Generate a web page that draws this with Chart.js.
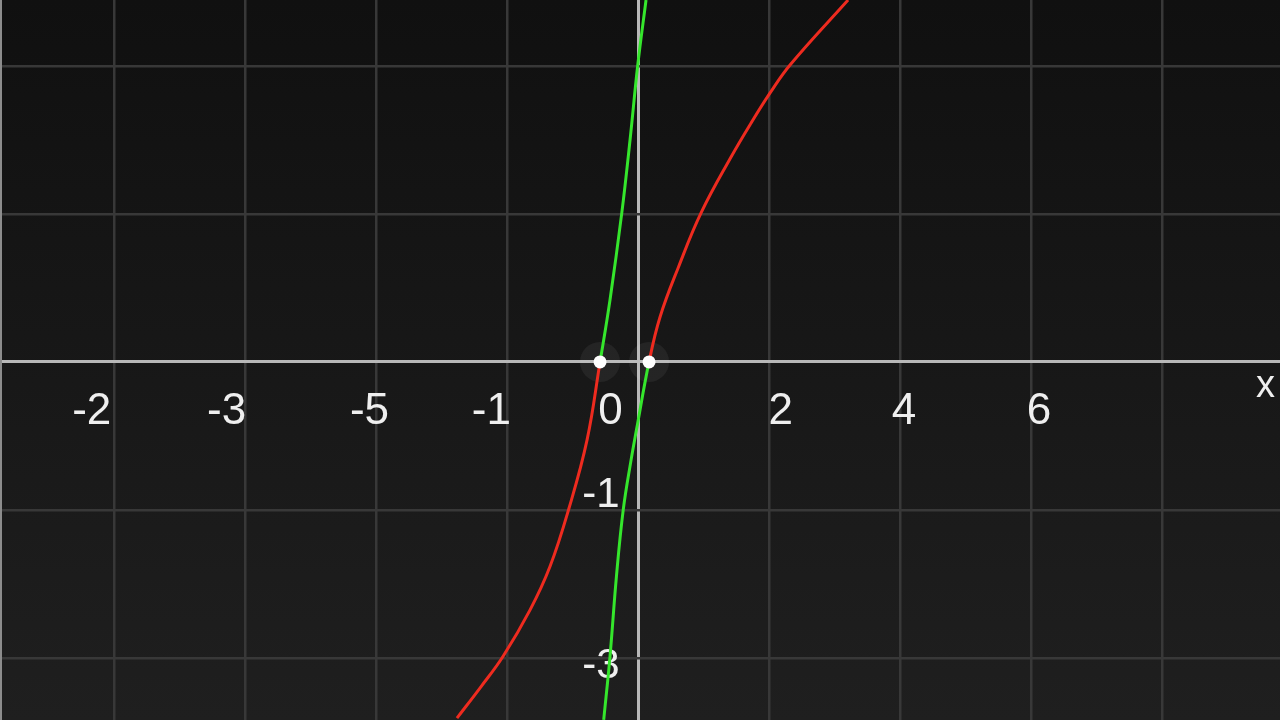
<!DOCTYPE html>
<html>
<head>
<meta charset="utf-8">
<script src="https://cdn.jsdelivr.net/npm/chart.js@4.4.0/dist/chart.umd.min.js"></script>
<style>
  html, body { margin: 0; padding: 0; }
  body { width: 1280px; height: 720px; overflow: hidden; background: linear-gradient(to bottom, #101010, #1f1f1f); }
  #caja { position: relative; width: 1280px; height: 720px; }
</style>
</head>
<body>
<div id="caja"><canvas id="grafico"></canvas></div>
<script>
// limites de la vista (unidades de la cuadricula)
const xMin = -4.87, xMax = 4.9;
const yMin = -2.42, yMax = 2.446;

// etiquetas del eje x tal como salen en la imagen
const xTickLabels = ['-2', '-3', '-5', '-1', '0', '2', '4', '6'];
const xTickValues = [-4.17, -3.14, -2.05, -1.12, -0.21, 1.09, 2.03, 3.06];
const xNameLabel = ['x'];
const xNameValue = [4.79];

// etiquetas del eje y
const yTickLabels = ['-1', '-3'];
const yTickValues = [-0.9, -2.06];

// curva izquierda (verde arriba, roja abajo)
const curvaA_x = [-1.382, -1.198, -1.031, -0.824, -0.672, -0.527, -0.389, -0.290, -0.214, -0.124, -0.061, -0.002, 0.061];
const curvaA_y = [-2.407, -2.194, -1.991, -1.676, -1.383, -0.989, -0.527, 0, 0.419, 1.007, 1.5, 2.007, 2.446];

// curva derecha (roja arriba, verde abajo)
const curvaB_x = [-0.262, -0.214, -0.165, -0.113, -0.053, -0.012, 0.084, 0.168, 0.309, 0.481, 0.710, 0.863, 1.008, 1.160, 1.603];
const curvaB_y = [-2.419, -1.991, -1.451, -1.0, -0.662, -0.459, 0, 0.304, 0.642, 1.007, 1.385, 1.615, 1.818, 2.007, 2.446];

// cortes con el eje x
const cortes_x = [-0.29, 0.084];
const cortes_y = [0, 0];

const VERDE = '#35e62c';
const ROJO = '#ee2b1f';
const FUENTE = "'Liberation Sans', Arial, sans-serif";

function puntos(xs, ys) {
  return xs.map((v, i) => ({ x: v, y: ys[i] }));
}

// color por tramo segun este arriba o abajo del eje
function colorTramo(arriba, abajo) {
  return ctx => ((ctx.p0.parsed.y + ctx.p1.parsed.y) / 2 >= 0 ? arriba : abajo);
}

// lineas de cuadricula, el cero mas claro (ejes)
const cuadricula = {
  drawTicks: false,
  color: c => (c.tick && c.tick.value === 0 ? '#b8b8b8' : '#383838'),
  lineWidth: c => (c.tick && c.tick.value === 0 ? 3 : 2.5)
};
const soloEnteros = s => { s.ticks = s.ticks.filter(t => Number.isInteger(t.value)); };
// que las etiquetas no empujen el area del grafico
const sinRelleno = s => { s.paddingLeft = 0; s.paddingRight = 0; s.paddingTop = 0; s.paddingBottom = 0; };

new Chart(document.getElementById('grafico'), {
  type: 'scatter',
  data: {
    datasets: [
      {
        data: puntos(cortes_x, cortes_y),
        pointRadius: 6.5,
        pointBackgroundColor: '#ffffff',
        pointBorderWidth: 0,
        order: 0
      },
      {
        type: 'line',
        data: puntos(curvaA_x, curvaA_y),
        indexAxis: 'y',
        pointRadius: 0,
        borderWidth: 3,
        tension: 0.4,
        borderColor: VERDE,
        fill: false,
        segment: { borderColor: colorTramo(VERDE, ROJO) },
        order: 1
      },
      {
        type: 'line',
        data: puntos(curvaB_x, curvaB_y),
        indexAxis: 'y',
        pointRadius: 0,
        borderWidth: 3,
        tension: 0.4,
        borderColor: ROJO,
        fill: false,
        segment: { borderColor: colorTramo(ROJO, VERDE) },
        order: 1
      },
      {
        // brillo alrededor de los puntos
        data: puntos(cortes_x, cortes_y),
        pointRadius: 20,
        pointBackgroundColor: 'rgba(255,255,255,0.06)',
        pointBorderWidth: 0,
        order: 2
      }
    ]
  },
  options: {
    responsive: true,
    maintainAspectRatio: false,
    animation: false,
    events: [],
    layout: { padding: 0, autoPadding: false },
    plugins: { legend: { display: false }, tooltip: { enabled: false } },
    scales: {
      x: {
        type: 'linear', min: xMin, max: xMax, position: 'bottom',
        afterBuildTicks: soloEnteros,
        ticks: { display: false, stepSize: 1 },
        grid: cuadricula,
        border: { display: false }
      },
      y: {
        type: 'linear', min: yMin, max: yMax, position: 'left',
        afterBuildTicks: soloEnteros,
        ticks: { display: false, stepSize: 1 },
        grid: cuadricula,
        border: { display: true, color: '#8c8c8c', width: 3 }
      },
      xEtiquetas: {
        type: 'linear', axis: 'x', min: xMin, max: xMax, position: { y: 0 },
        afterBuildTicks: s => { s.ticks = xTickValues.map(v => ({ value: v })); },
        afterFit: sinRelleno,
        ticks: {
          autoSkip: false, maxRotation: 0, padding: 24,
          color: '#efefef', font: { size: 44, family: FUENTE },
          callback: (v, i) => xTickLabels[i]
        },
        grid: { display: false, drawTicks: false },
        border: { display: false }
      },
      xNombre: {
        type: 'linear', axis: 'x', min: xMin, max: xMax, position: { y: 0 },
        afterBuildTicks: s => { s.ticks = xNameValue.map(v => ({ value: v })); },
        afterFit: sinRelleno,
        ticks: {
          autoSkip: false, maxRotation: 0, padding: 2,
          color: '#efefef', font: { size: 38, family: FUENTE },
          callback: (v, i) => xNameLabel[i]
        },
        grid: { display: false, drawTicks: false },
        border: { display: false }
      },
      yEtiquetas: {
        type: 'linear', axis: 'y', min: yMin, max: yMax, position: { x: -0.14 },
        afterBuildTicks: s => { s.ticks = yTickValues.map(v => ({ value: v })); },
        afterFit: sinRelleno,
        ticks: {
          autoSkip: false, padding: 0,
          color: '#efefef', font: { size: 42, family: FUENTE },
          callback: (v, i) => yTickLabels[i]
        },
        grid: { display: false, drawTicks: false },
        border: { display: false }
      }
    }
  }
});
</script>
</body>
</html>
